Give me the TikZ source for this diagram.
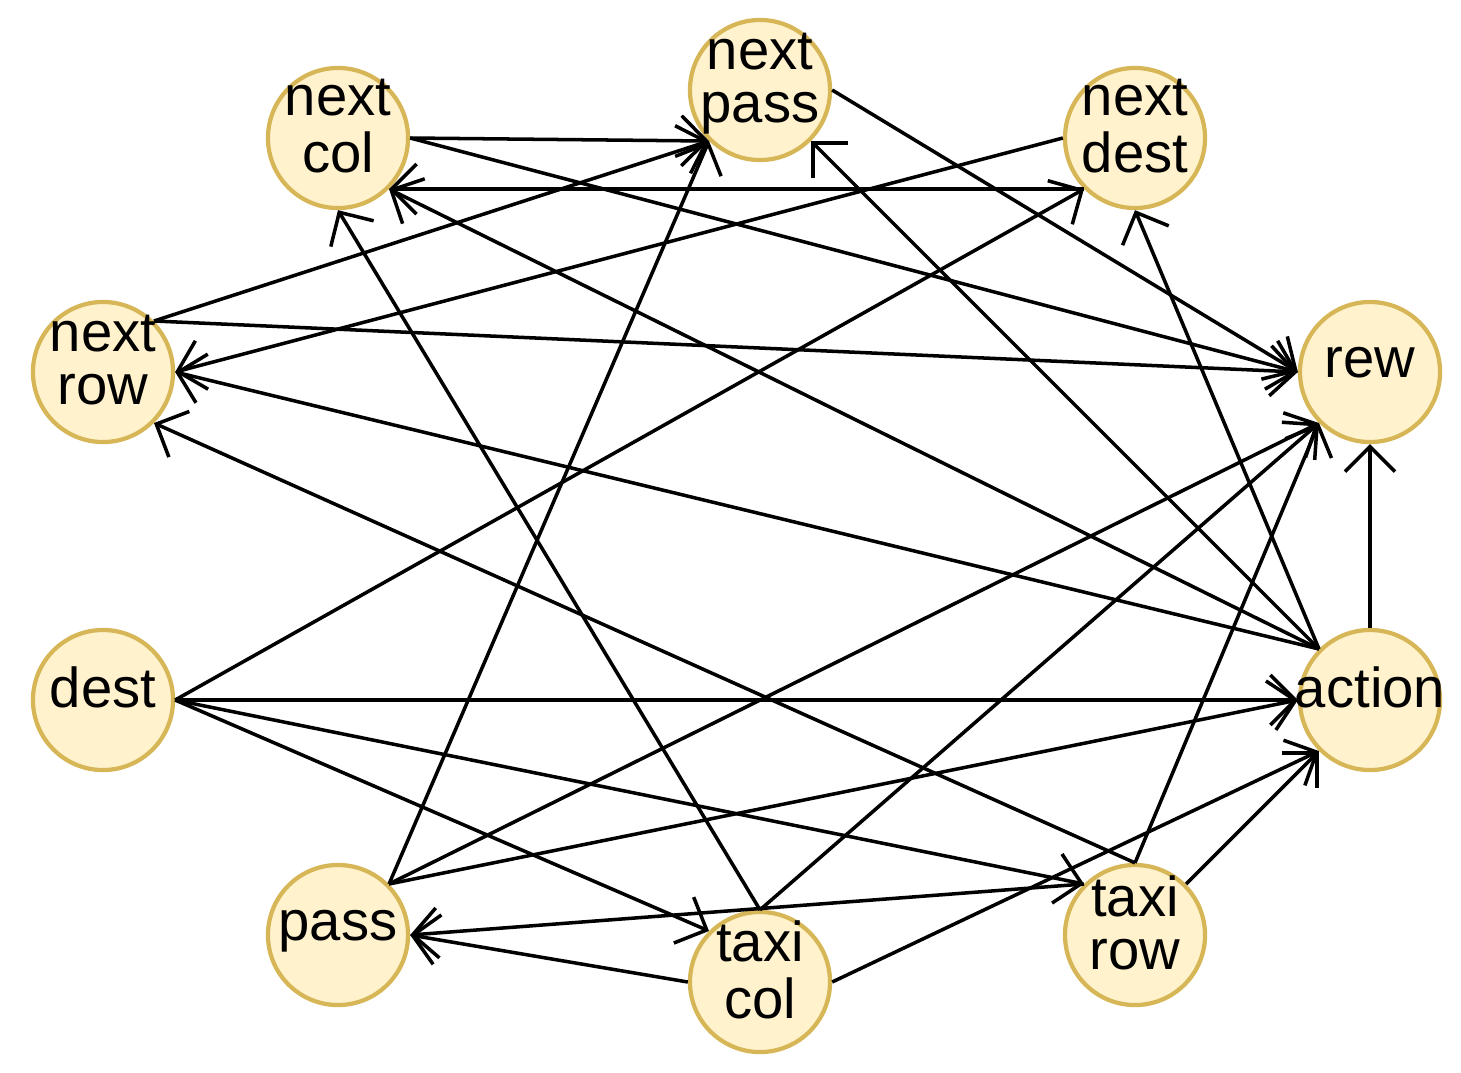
\documentclass[tikz,border=0pt]{standalone}
\usepackage{fontspec}
\setmainfont{Liberation Sans}
\usetikzlibrary{arrows.meta}
\newcommand{\vtxt}[1]{\makebox[0pt]{\smash{\raisebox{-0.35ex}{\begin{tabular}{@{}c@{}}#1\end{tabular}}}}}
\begin{document}
\begin{tikzpicture}[x=0.01cm,y=-0.01cm,
  vnode/.style={circle,draw={rgb,255:red,214;green,182;blue,86},line width=1.2pt,fill={rgb,255:red,255;green,242;blue,204},minimum size=1.4cm,inner sep=0pt,font=\fontsize{16}{15}\selectfont},
  arr/.style={->,line width=1pt,>={Straight Barb[length=2.5mm,width=5mm]}}]
\useasboundingbox (0,0) rectangle (1461,1072);
\node[vnode] (npass) at (760,90) {\vtxt{next\\pass}};
\node[vnode] (ncol) at (338,138) {\vtxt{next\\col}};
\node[vnode] (ndest) at (1135,138) {\vtxt{next\\dest}};
\node[vnode] (nrow) at (103,372) {\vtxt{next\\row}};
\node[vnode] (rew) at (1370,372) {\vtxt{rew}};
\node[vnode] (dest) at (103,700) {\vtxt{dest}};
\node[vnode] (action) at (1370,700) {\vtxt{action}};
\node[vnode] (pass) at (338,935) {\vtxt{pass}};
\node[vnode] (tcol) at (760,982) {\vtxt{taxi\\col}};
\node[vnode] (trow) at (1135,935) {\vtxt{taxi\\row}};
\draw[arr] (ncol.east) -- (npass.225);
\draw[arr] (ncol.east) -- (rew.west);
\draw[arr] (ndest.225) -- (ncol.315);
\draw[arr] (ndest.west) -- (nrow.east);
\draw[arr] (nrow.45) -- (npass.225);
\draw[arr] (nrow.45) -- (rew.west);
\draw[arr] (npass.east) -- (rew.west);
\draw[arr] (action.135) -- (nrow.east);
\draw[arr] (action.135) -- (ncol.315);
\draw[arr] (action.135) -- (npass.315);
\draw[arr] (action.135) -- (ndest.south);
\draw[arr] (action.north) -- (rew.south);
\draw[arr] (dest.east) -- (action.west);
\draw[arr] (dest.east) -- (ndest.225);
\draw[arr] (dest.east) -- (tcol.135);
\draw[arr] (dest.east) -- (trow.135);
\draw[arr] (pass.45) -- (npass.225);
\draw[arr] (pass.45) -- (rew.225);
\draw[arr] (pass.45) -- (action.west);
\draw[arr] (tcol.west) -- (pass.east);
\draw[arr] (tcol.north) -- (ncol.south);
\draw[arr] (tcol.north) -- (rew.225);
\draw[arr] (tcol.east) -- (action.225);
\draw[arr] (trow.135) -- (pass.east);
\draw[arr] (trow.north) -- (nrow.315);
\draw[arr] (trow.north) -- (rew.225);
\draw[arr] (trow.45) -- (action.225);
\end{tikzpicture}
\end{document}
